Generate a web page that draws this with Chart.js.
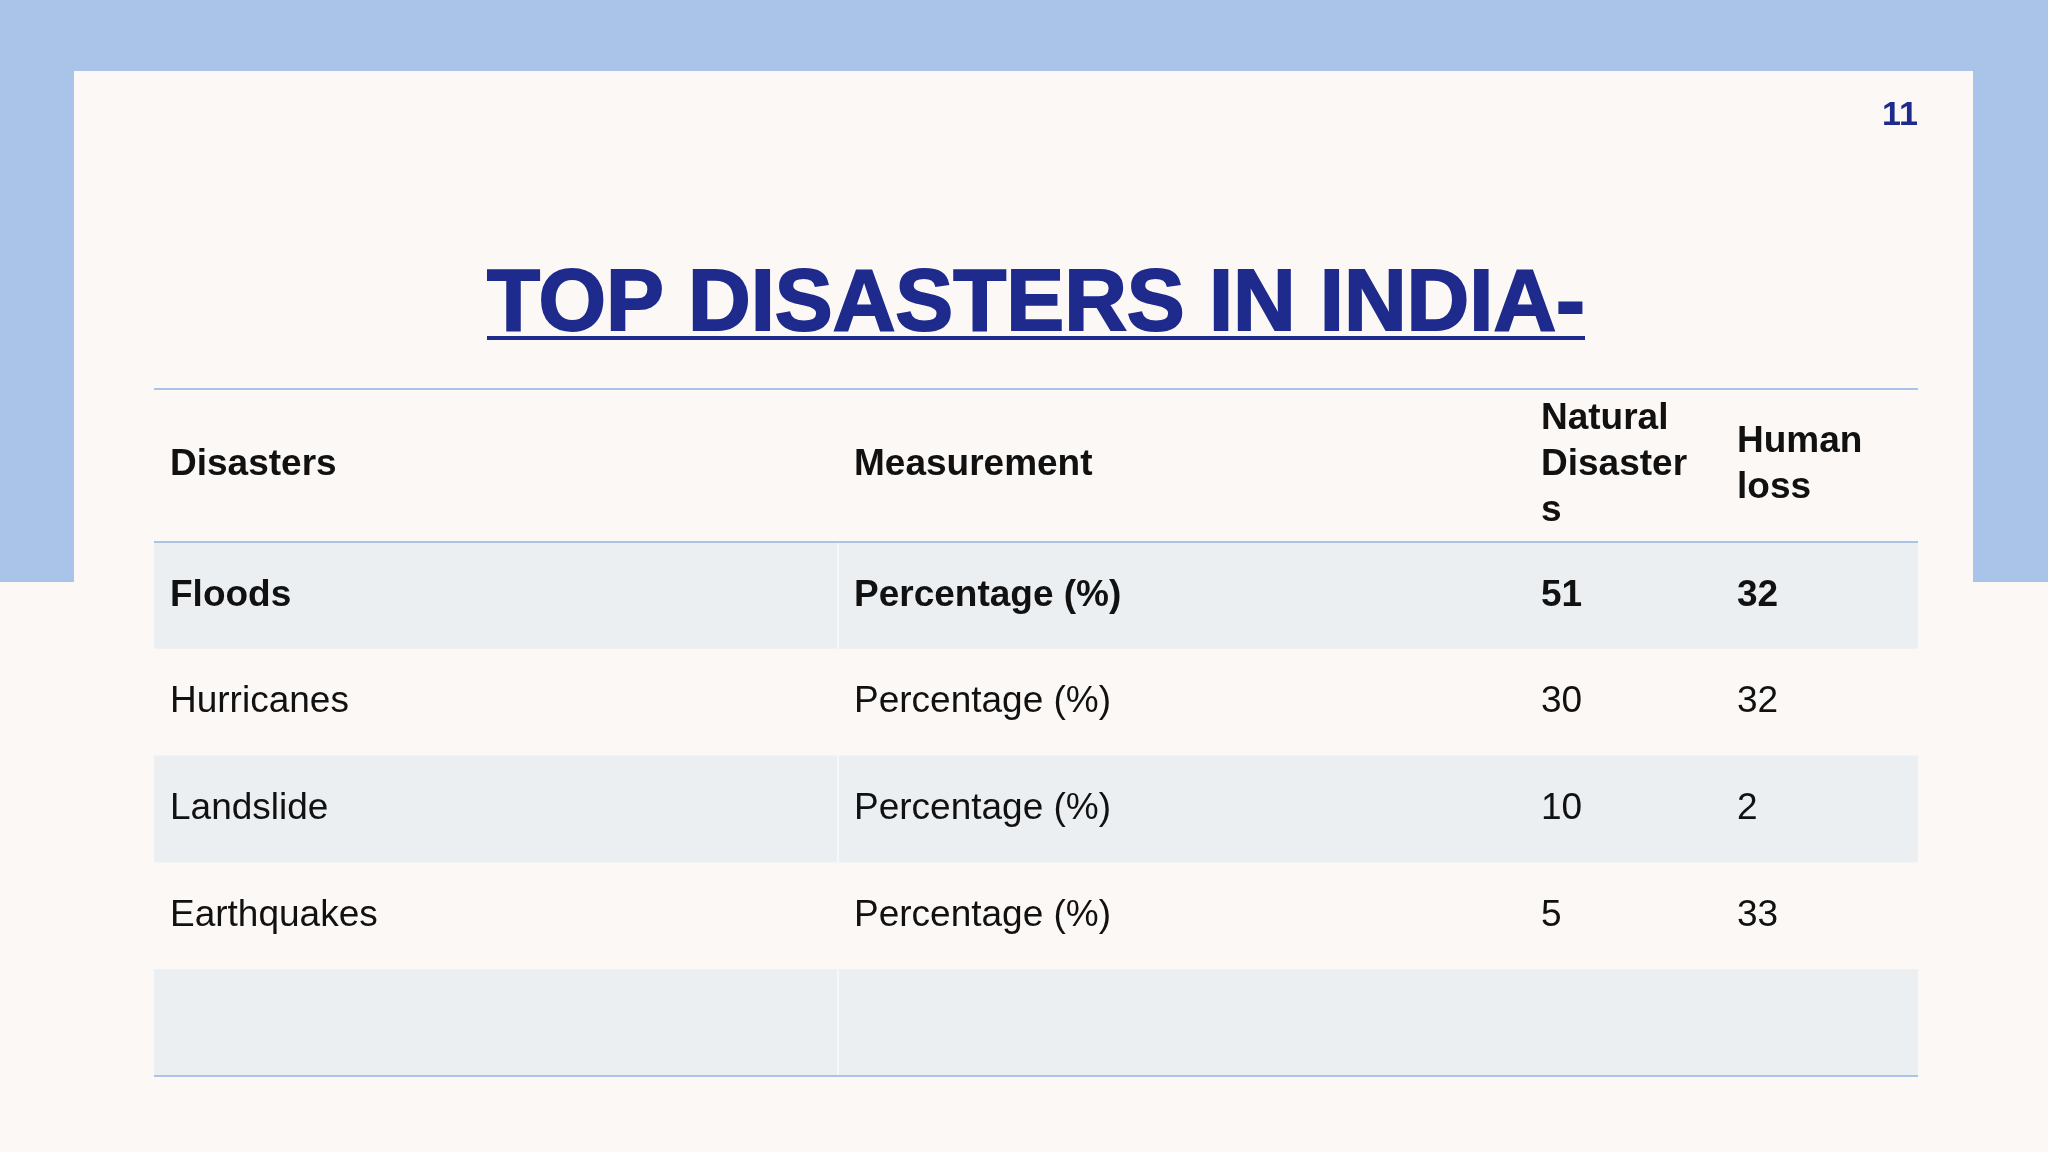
<!DOCTYPE html>
<html><head><meta charset="utf-8">
<script src="https://cdn.jsdelivr.net/npm/chart.js@4"></script>
<style>html,body{margin:0;padding:0;background:#FCF8F5;}canvas{display:block}</style>
</head><body><canvas id="c" width="2048" height="1152"></canvas>
<script>
const headers = [["Disasters"], ["Measurement"], ["Natural", "Disaster", "s"], ["Human", "loss"]];
const disasters = ["Floods", "Hurricanes", "Landslide", "Earthquakes", ""];
const measurement = ["Percentage (%)", "Percentage (%)", "Percentage (%)", "Percentage (%)", ""];
const natural = [51, 30, 10, 5, null];
const human = [32, 32, 2, 33, null];
const colWidths = [684, 687, 196, 197];

const totalW = colWidths.reduce((a,b)=>a+b,0);
const colEdges = [0]; colWidths.forEach(w=>colEdges.push(colEdges[colEdges.length-1]+w/totalW*4));
const points = [];
disasters.forEach((d,i)=>{for(let c=0;c<4;c++)points.push({x:colEdges[c],y:i});});

const tablePlugin = {
  id:'table',
  beforeDraw(chart){
    const ctx=chart.ctx, xs=chart.scales.x, ys=chart.scales.y, W=chart.width, H=chart.height;
    ctx.save();
    ctx.fillStyle='#A9C4E8'; ctx.fillRect(0,0,W,582);
    ctx.fillStyle='#FCF8F5'; ctx.fillRect(74,71,1899,H-71);
    // page number
    ctx.fillStyle='#1E2A8C'; ctx.font='bold 34px "Liberation Sans", Arial'; ctx.textAlign='right'; ctx.textBaseline='middle';
    ctx.fillText('11',1918,116);
    // title
    const title='TOP DISASTERS IN INDIA-';
    ctx.font='900 88px "Liberation Sans", Arial'; ctx.textAlign='left'; ctx.textBaseline='alphabetic';
    const tw=ctx.measureText(title).width, target=1098;
    ctx.save(); ctx.translate(487,330); ctx.scale(target/tw,1); ctx.lineWidth=2; ctx.strokeStyle='#1E2A8C';
    ctx.fillText(title,0,0); ctx.strokeText(title,0,0); ctx.restore();
    ctx.fillRect(487,336,target,4);
    const L=xs.getPixelForValue(0), R=xs.getPixelForValue(4);
    const rowEdge=i=>ys.getPixelForValue(i);
    // row backgrounds
    disasters.forEach((d,i)=>{ if(i%2===0){ctx.fillStyle='#EBEFF2';ctx.fillRect(L,rowEdge(i),R-L,rowEdge(i+1)-rowEdge(i));
      ctx.fillStyle='#F6F7F8'; ctx.fillRect(xs.getPixelForValue(colEdges[1])-1,rowEdge(i),2,rowEdge(i+1)-rowEdge(i));}});
    // lines
    ctx.fillStyle='#A8C4E6';
    ctx.fillRect(L,388,R-L,2); ctx.fillRect(L,rowEdge(0)-1,R-L,2); ctx.fillRect(L,rowEdge(5)-1,R-L,2);
    // header
    ctx.fillStyle='#111'; ctx.font='bold 37px "Liberation Sans", Arial'; ctx.textBaseline='middle';
    const hMid=(388+rowEdge(0))/2;
    headers.forEach((h,c)=>{const x=xs.getPixelForValue(colEdges[c])+16; const n=h.length;
      h.forEach((t,k)=>ctx.fillText(t,x,hMid+(k-(n-1)/2)*46));});
    // body
    const cols=[disasters,measurement,natural,human];
    disasters.forEach((d,i)=>{
      ctx.font=(i===0?'bold ':'')+'37px "Liberation Sans", Arial';
      const y=(rowEdge(i)+rowEdge(i+1))/2;
      cols.forEach((arr,c)=>{const v=arr[i]; if(v===null||v==='')return; ctx.fillText(String(v),xs.getPixelForValue(colEdges[c])+16,y);});
    });
    ctx.restore();
  }
};
new Chart(document.getElementById('c'),{
  type:'scatter',
  data:{datasets:[{data:points,pointRadius:0}]},
  options:{responsive:false,devicePixelRatio:1,animation:false,
    layout:{padding:{left:154,right:130,top:542,bottom:76}},
    plugins:{legend:{display:false},tooltip:{enabled:false}},
    scales:{x:{type:'linear',min:0,max:4,display:false},y:{type:'linear',min:0,max:5,reverse:true,display:false}}},
  plugins:[tablePlugin]
});
</script></body></html>
